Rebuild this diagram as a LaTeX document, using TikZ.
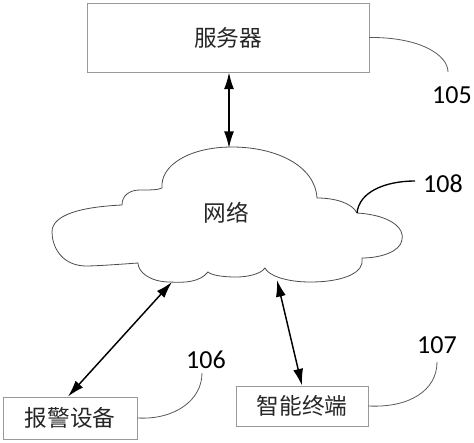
\documentclass[tikz,border=0pt]{standalone}
\usepackage{fontspec}
\newfontfamily\cjk{Noto Sans CJK SC}
\newfontfamily\numfont{Carlito}
\usetikzlibrary{arrows.meta}
\begin{document}
\begin{tikzpicture}[x=0.75pt,y=0.75pt,yscale=-1,xscale=1,
  box/.style={draw=black!40, line width=0.7pt, inner sep=0pt, text=black!85, font=\cjk\fontsize{17}{20}\selectfont},
  link/.style={<->, >={Latex[length=12.5pt,width=7.5pt]}, line width=1.1pt, black},
  leader/.style={draw=black!65, line width=0.6pt},
  refnum/.style={text=black, inner sep=0pt, font=\numfont\fontsize{19.5}{22}\selectfont}]

\useasboundingbox (0,0) rectangle (474,442);

% boxes
\node[box, minimum width=211.5pt, minimum height=51.75pt] (server) at (228,37.5) {服务器};
\node[box, minimum width=100.5pt, minimum height=31.5pt] (alarm) at (70,418) {报警设备};
\node[box, minimum width=99pt, minimum height=30pt] (terminal) at (302,406) {智能终端};

% cloud
\draw[draw=black!70, line width=0.6pt] (162,188) .. controls (160,165) and (190,147) .. (232,147)
  .. controls (275,147) and (315,165) .. (317,198)
  .. controls (335,198) and (352,203) .. (357,213)
  .. controls (390,215) and (405,228) .. (402,240)
  .. controls (400,252) and (380,258) .. (362,258)
  .. controls (365,272) and (345,282) .. (310,282)
  .. controls (285,282) and (268,275) .. (265,268)
  .. controls (260,275) and (245,277) .. (236,277)
  .. controls (222,277) and (211,275) .. (208,272)
  .. controls (200,282) and (185,283) .. (170,282)
  .. controls (150,282) and (138,272) .. (138,263)
  .. controls (110,265) and (95,266) .. (85,266)
  .. controls (60,265) and (52,245) .. (52,232)
  .. controls (52,215) and (80,207) .. (122,205)
  .. controls (122,195) and (130,190) .. (140,190)
  .. controls (150,190) and (158,190) .. (162,188) -- cycle;
\node[box, draw=none] (net) at (226,213) {网络};
\coordinate (netTop) at (229,148);
\coordinate (netLeft) at (172,282);
\coordinate (netRight) at (277,280);
\coordinate (netEdge) at (357,213);

% connections
\draw[link] (server.south -| netTop) -- (netTop);
\draw[link] (netLeft) -- ([xshift=-1.5pt]alarm.north);
\draw[link] (netRight) -- (terminal.north);

% reference numbers
\node[refnum] (n105) at (452,95) {105};
\node[refnum] (n108) at (443,184) {108};
\node[refnum] (n106) at (206,360) {106};
\node[refnum] (n107) at (437,345) {107};
\coordinate (e105) at (448,72);
\coordinate (e108) at (415,181);
\coordinate (e106) at (202,373);
\coordinate (e107) at (437,362);

\draw[leader] (server.east) .. controls (420,37) and (448,55) .. (e105);
\draw[leader, draw=black, line width=1pt] (netEdge) .. controls (359,192) and (385,181) .. (e108);
\draw[leader] (alarm.east) .. controls (175,420) and (202,400) .. (e106);
\draw[leader] (terminal.east) .. controls (410,408) and (437,390) .. (e107);

\end{tikzpicture}
\end{document}
